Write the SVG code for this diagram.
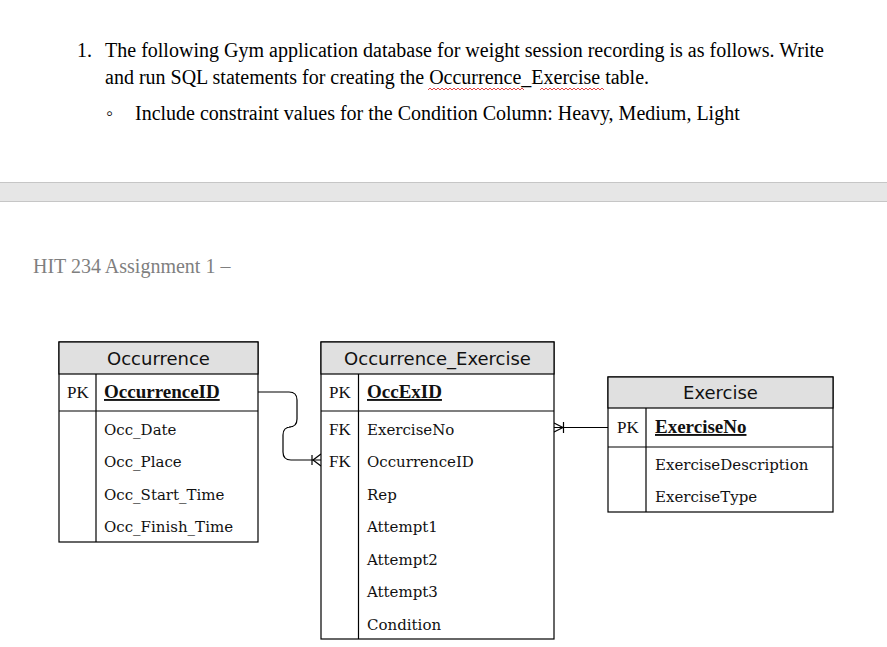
<svg xmlns="http://www.w3.org/2000/svg" width="887" height="647" viewBox="0 0 887 647">
<style>
.doc{font-family:"Liberation Serif","Times New Roman",serif;font-size:20px;fill:#000}
.hit{font-family:"Liberation Serif","Times New Roman",serif;font-size:20px;fill:#7f7f7f}
.box{fill:#fff;stroke:#000;stroke-width:1.2}
.hdr{fill:#e0e0e0;stroke:#000;stroke-width:1.2}
.ln{stroke:#000;stroke-width:1.2;fill:none}
.ht{font-family:"DejaVu Sans",sans-serif;font-size:18px;fill:#111;text-anchor:middle}
.key{font-family:"Liberation Serif","Times New Roman",serif;font-size:17px;fill:#111}
.pk{font-family:"Liberation Serif","Times New Roman",serif;font-size:19px;font-weight:bold;fill:#111;text-decoration:underline}
.at{font-family:"DejaVu Serif",serif;font-size:15px;fill:#111}
.con{stroke:#000;stroke-width:1.2;fill:none}
</style>
<rect width="887" height="647" fill="#fff"/>
<g id="text-block">
<text class="doc" x="77" y="57">1.</text>
<text class="doc" x="105" y="57" textLength="719" lengthAdjust="spacing">The following Gym application database for weight session recording is as follows. Write</text>
<text class="doc" x="105" y="84">and run SQL statements for creating the Occurrence_Exercise table.</text>
<text class="doc" x="106" y="120" font-size="15px">◦</text>
<text class="doc" x="135" y="120">Include constraint values for the Condition Column: Heavy, Medium, Light</text>
<path d="M428 90 l2 -2 l2 2 l2 -2 l2 2 l2 -2 l2 2 l2 -2 l2 2 l2 -2 l2 2 l2 -2 l2 2 l2 -2 l2 2 l2 -2 l2 2 l2 -2 l2 2 l2 -2 l2 2 l2 -2 l2 2 l2 -2 l2 2 l2 -2 l2 2 l2 -2 l2 2 l2 -2 l2 2 l2 -2 l2 2 l2 -2 l2 2 l2 -2 l2 2 l2 -2 l2 2 l2 -2 l2 2 l2 -2 l2 2 l2 -2 l2 2 l2 -2 l2 2 l2 -2 l2 2" fill="none" stroke="#e03030" stroke-width="0.9"/>
<path d="M540 90 l2 -2 l2 2 l2 -2 l2 2 l2 -2 l2 2 l2 -2 l2 2 l2 -2 l2 2 l2 -2 l2 2 l2 -2 l2 2 l2 -2 l2 2 l2 -2 l2 2 l2 -2 l2 2 l2 -2 l2 2 l2 -2 l2 2 l2 -2 l2 2 l2 -2 l2 2 l2 -2 l2 2 l2 -2 l2 2" fill="none" stroke="#e03030" stroke-width="0.9"/>
</g>
<g id="band">
<rect x="0" y="182" width="887" height="20" fill="#e6e6e6"/>
<line x1="0" y1="182.5" x2="887" y2="182.5" stroke="#c6c6c6"/>
<line x1="0" y1="201.5" x2="887" y2="201.5" stroke="#c6c6c6"/>
<text class="hit" x="33" y="273">HIT 234 Assignment 1 –</text>
</g>
<g id="connectors">
<path class="con" d="M258 392 H289 Q297 392 297 400 V419 Q297 427 289 427 H291 Q283 427 283 435 V452 Q283 460 291 460 H321"/>
<path class="con" d="M312 455 V465 M313 460 L321 454 M313 460 L321 466"/>
<path class="con" d="M554 427.5 H608"/>
<path class="con" d="M563.5 422 V433 M563 427.5 L554 423 M563 427.5 L554 432"/>
</g>
<g id="occurrence">
<rect class="box" x="59" y="342" width="199" height="200"/>
<rect class="hdr" x="59" y="342" width="199" height="32"/>
<line class="ln" x1="59" y1="411" x2="258" y2="411"/>
<line class="ln" x1="96" y1="374" x2="96" y2="542"/>
<text class="ht" x="158.5" y="365">Occurrence</text>
<text class="key" x="67" y="398">PK</text>
<text class="pk" x="104" y="398">OccurrenceID</text>
<text class="at" x="104" y="435">Occ_Date</text>
<text class="at" x="104" y="467">Occ_Place</text>
<text class="at" x="104" y="500">Occ_Start_Time</text>
<text class="at" x="104" y="532">Occ_Finish_Time</text>
</g>
<g id="occurrence_exercise">
<rect class="box" x="321" y="342" width="233" height="297"/>
<rect class="hdr" x="321" y="342" width="233" height="32"/>
<line class="ln" x1="321" y1="411" x2="554" y2="411"/>
<line class="ln" x1="358.5" y1="374" x2="358.5" y2="639"/>
<text class="ht" x="437.5" y="365">Occurrence_Exercise</text>
<text class="key" x="329" y="398">PK</text>
<text class="pk" x="367" y="398">OccExID</text>
<text class="key" x="329" y="435">FK</text>
<text class="key" x="329" y="467">FK</text>
<text class="at" x="367" y="435">ExerciseNo</text>
<text class="at" x="367" y="467">OccurrenceID</text>
<text class="at" x="367" y="500">Rep</text>
<text class="at" x="367" y="532">Attempt1</text>
<text class="at" x="367" y="565">Attempt2</text>
<text class="at" x="367" y="597">Attempt3</text>
<text class="at" x="367" y="630">Condition</text>
</g>
<g id="exercise">
<rect class="box" x="608" y="377" width="225" height="135"/>
<rect class="hdr" x="608" y="377" width="225" height="31"/>
<line class="ln" x1="608" y1="447" x2="833" y2="447"/>
<line class="ln" x1="646" y1="408" x2="646" y2="512"/>
<text class="ht" x="720.5" y="399">Exercise</text>
<text class="key" x="617" y="433">PK</text>
<text class="pk" x="655" y="433">ExerciseNo</text>
<text class="at" x="655" y="470">ExerciseDescription</text>
<text class="at" x="655" y="502">ExerciseType</text>
</g>
</svg>
